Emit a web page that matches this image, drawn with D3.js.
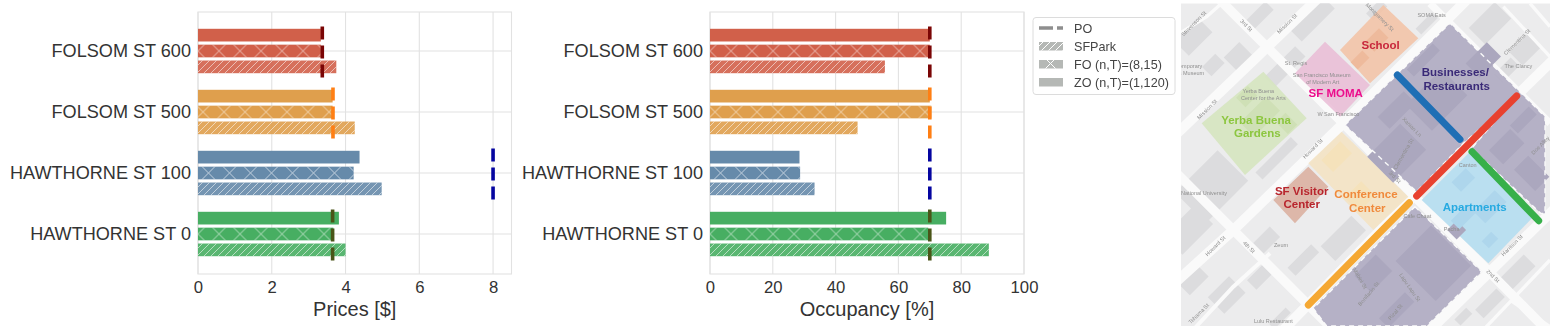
<!DOCTYPE html>
<html>
<head>
<meta charset="utf-8">
<script src="https://cdn.jsdelivr.net/npm/d3@7"></script>
<style>
  html, body { margin:0; padding:0; background:#fff; }
  svg { display:block; font-family:"Liberation Sans", Arial, sans-serif; }
  .soft { filter: blur(0.35px); }
  .map { filter: blur(0.55px); }
</style>
</head>
<body>
<div id="chart"></div>
<script>
// chart values
const blocks = ['FOLSOM ST 600','FOLSOM ST 500','HAWTHORNE ST 100','HAWTHORNE ST 0'];
const methods = ['ZO','FO','SF'];
const legendLabels = ['PO','SFPark','FO (n,T)=(8,15)','ZO (n,T)=(1,120)'];

const pricesZO = [3.33, 3.65, 4.38, 3.82];
const pricesFO = [3.33, 3.65, 4.22, 3.67];
const pricesSF = [3.75, 4.25, 4.98, 4.00];
const pricesPO = [3.37, 3.66, 8.00, 3.65];

const occZO = [70.0, 70.0, 28.5, 75.2];
const occFO = [70.0, 70.5, 28.7, 69.5];
const occSF = [55.7, 47.0, 33.3, 88.8];
const occPO = [70.0, 70.0, 70.0, 70.0];

const priceTicks = [0,2,4,6,8];
const occTicks = [0,20,40,60,80,100];

const barColors = ['#d1604a','#df9f4d','#668aaa','#47ae62'];
const poColors = ['#7a0505','#ff7f14','#0505a0','#4a5518'];
const hatchShift = [0, 5, 10.5, 0];

// map, all geometry in the units of a 1140x984 sheet
const mapRoads = [
  {w:30, p:[[-20,440],[470,-30]]},
  {w:30, p:[[-20,880],[190,690],[520,370],[920,-30]]},
  {w:30, p:[[330,1000],[720,600],[1200,130]]},
  {w:30, p:[[770,1000],[1160,620]]},
  {w:28, p:[[120,-30],[520,370],[720,575],[1140,1000]]},
  {w:28, p:[[-20,480],[190,690],[500,1000]]},
  {w:22, p:[[780,10],[1140,370]]},
  {w:10, p:[[-20,130],[110,50],[200,-30]]},
  {w:12, p:[[60,1000],[190,860],[300,760]]},
  {w:10, p:[[930,1000],[1140,780]]},
  {w:10, p:[[1000,20],[1140,170]]},
  {w:10, p:[[1020,900],[1140,980]]},
  {w:10, p:[[1080,10],[1140,80]]}
];
const mapBuildings = [
  [70,110,100,62],[205,170,66,58],[130,195,56,40],[345,200,130,44],[420,50,140,70],[270,45,80,36],
  [620,30,60,30],[770,70,70,24],[960,70,110,70],[1065,150,76,56],[1010,210,70,36],[125,560,180,130],
  [55,690,130,80],[320,475,150,30],[520,715,130,62],[290,720,70,44],[400,780,100,34],[170,885,90,70],
  [270,830,70,40],[70,840,80,50],[1040,820,110,50],[960,910,90,36],[880,950,50,26],[330,955,70,22]
];
const mapRegions = [
  {name:'yerba', fill:'#d6e5c0', o:0.92, edge:false, p:[[95,370],[280,215],[410,355],[225,525]]},
  {name:'school', fill:'#f2c3a6', o:0.88, edge:false, p:[[510,150],[640,15],[745,115],[600,250]]},
  {name:'moma', fill:'#e9bdd6', o:0.88, edge:false, p:[[375,220],[465,125],[600,255],[510,350]]},
  {name:'biz', fill:'#b2aec4', o:0.96, edge:true, p:[[525,375],[840,70],[1125,350],[1125,640],[1112,640],[905,445],[1040,290],[880,430],[740,575]]},
  {name:'biz2', fill:'#b2aec4', o:0.96, edge:true, p:[[735,620],[935,815],[770,978],[470,978],[430,925]]},
  {name:'apts', fill:'#b8deF0', o:0.97, edge:false, p:[[755,600],[900,455],[1090,650],[955,790]]},
  {name:'conf', fill:'#f3e4c6', o:0.95, edge:false, p:[[415,490],[515,395],[715,590],[610,690]]},
  {name:'visitor', fill:'#dcb5a6', o:0.97, edge:false, p:[[310,600],[415,500],[475,560],[375,670]]}
];
const mapPatches = [
  {c:'#aba7be', r:[[800,300,150,110],[940,180,90,60],[680,330,110,50],[680,460,140,110],[1010,440,90,60],[1085,520,60,90],[1060,360,80,34],[760,180,110,30]]},
  {c:'#aba7be', r:[[790,790,150,170],[610,820,90,70],[680,930,110,40],[860,690,40,40]]},
  {c:'#aed6ec', r:[[880,540,60,40],[960,620,90,50],[880,650,70,36],[960,720,40,30]]},
  {c:'#cfe0b6', r:[[270,350,110,60],[350,370,40,50],[230,290,50,40]]},
  {c:'#f5e2bb', r:[[570,590,70,60],[500,470,80,50]]},
  {c:'#eeba9c', r:[[620,120,60,40],[570,180,50,30]]}
];
const mapStreets = [
  {c:'#f5a833', p:[[415,915],[718,608]]},
  {c:'#e8412f', p:[[740,588],[1040,288]]},
  {c:'#1f6fb5', p:[[682,225],[870,418]]},
  {c:'#37b04a', p:[[906,455],[1106,662]]}
];
const mapLabels = [
  {t:'School', x:632, y:148, c:'#c8283c', s:11.5},
  {t:'Businesses/', x:856, y:228, c:'#3a2a78', s:11.5},
  {t:'Restaurants', x:860, y:270, c:'#3a2a78', s:11.5},
  {t:'SF MOMA', x:497, y:292, c:'#ec0d8c', s:11.5},
  {t:'Yerba Buena', x:258, y:372, c:'#8cc63f', s:11.5},
  {t:'Gardens', x:262, y:412, c:'#8cc63f', s:11.5},
  {t:'SF Visitor', x:395, y:584, c:'#b8252d', s:11.5},
  {t:'Center', x:395, y:624, c:'#b8252d', s:11.5},
  {t:'Conference', x:588, y:595, c:'#f08a3c', s:11.5},
  {t:'Center', x:592, y:637, c:'#f08a3c', s:11.5},
  {t:'Apartments', x:914, y:632, c:'#27aae1', s:11.5}
];
const mapSmallLabels = [
  {t:'Stevenson St', x:75, y:75, r:-45}, {t:'3rd St', x:225, y:80, r:45}, {t:'Mission St', x:355, y:75, r:-45},
  {t:'Montgomery St', x:625, y:55, r:45}, {t:'SOMA Eats', x:785, y:50, r:0}, {t:'Clementina St', x:1045, y:130, r:-45},
  {t:'The Clancy', x:1045, y:205, r:0}, {t:'St. Regis', x:378, y:196, r:0}, {t:'San Francisco Museum', x:455, y:232, r:0},
  {t:'of Modern Art', x:458, y:252, r:0}, {t:'Yerba Buena', x:265, y:280, r:0}, {t:'Center for the Arts', x:280, y:301, r:0},
  {t:'Mission St', x:115, y:332, r:-45}, {t:'W San Francisco', x:505, y:348, r:0}, {t:'Howard St', x:432, y:450, r:-45},
  {t:'Xanian Ln', x:722, y:385, r:45}, {t:'Clementina St', x:705, y:465, r:-60}, {t:'3rd St', x:670, y:535, r:45},
  {t:'Canton', x:893, y:502, r:0}, {t:'Doe Alley', x:1115, y:440, r:-45}, {t:'National University', x:102, y:585, r:0},
  {t:'Cafe Chaat', x:742, y:654, r:0}, {t:'Pacha', x:845, y:694, r:0}, {t:'Harrison St', x:1030, y:740, r:-45},
  {t:'Howard St', x:140, y:742, r:-45}, {t:'4th St', x:233, y:745, r:45}, {t:'Zeum', x:333, y:741, r:0},
  {t:'Mabini St', x:565, y:838, r:60}, {t:'Bonifacio St', x:600, y:885, r:-50}, {t:'Lapu Lapu St', x:715, y:865, r:55},
  {t:'Rizal St', x:680, y:940, r:-50}, {t:'2nd St', x:965, y:832, r:45}, {t:'Tehama St', x:90, y:945, r:-45},
  {t:'Lulu Restaurant', x:310, y:970, r:0}, {t:'emporary', x:62, y:205, r:0}, {t:'ts Museum', x:62, y:224, r:0}
];

const svg = d3.select('#chart').append('svg').attr('width', 1550).attr('height', 328);
const defs = svg.append('defs');
const margin = {t:12, b:274};

// hatches, one per block because each one starts from that block's bar
function makeHatches(prefix, x0, y){
  blocks.forEach((b,i)=>{
    const yMid = y(b) + rowScale('FO') + rowScale.bandwidth()/2;
    const x = defs.append('pattern').attr('id', `${prefix}-x-${i}`)
      .attr('patternUnits','userSpaceOnUse').attr('width',21).attr('height',21)
      .attr('patternTransform', `translate(${x0 - 10.5 + hatchShift[i]},${yMid - 10.5})`);
    x.append('path').attr('d','M0,0L21,21M21,0L0,21').attr('stroke','#fff').attr('stroke-opacity',0.6).attr('stroke-width',1);
    const s = defs.append('pattern').attr('id', `${prefix}-s-${i}`)
      .attr('patternUnits','userSpaceOnUse').attr('width',7).attr('height',7)
      .attr('patternTransform', `translate(${x0},${y(b)})`);
    s.append('path').attr('d','M-1,8L8,-1M-1,1L1,-1M6,8L8,6').attr('stroke','#fff').attr('stroke-opacity',0.55).attr('stroke-width',1);
  });
}

const rowScale = d3.scaleBand().domain(methods).range([-23,23]).paddingInner(0.2).paddingOuter(0.05);

function drawPanel(opts){
  const x = d3.scaleLinear().domain(opts.domain).range(opts.range);
  const y = d3.scalePoint().domain(blocks).range([51,234]);
  makeHatches(opts.id, opts.range[0], y);

  const g = svg.append('g').attr('class','panel soft');

  //grid
  g.append('g').selectAll('line').data(opts.ticks).join('line')
    .attr('x1',d=>x(d)).attr('x2',d=>x(d)).attr('y1',margin.t).attr('y2',margin.b)
    .attr('stroke','#e2e2e2').attr('stroke-width',1.1);
  g.append('g').selectAll('line').data(blocks).join('line')
    .attr('x1',opts.range[0]).attr('x2',opts.range[1]).attr('y1',d=>y(d)).attr('y2',d=>y(d))
    .attr('stroke','#e2e2e2').attr('stroke-width',1.1);
  g.append('rect').attr('x',opts.range[0]).attr('y',margin.t)
    .attr('width',opts.range[1]-opts.range[0]).attr('height',margin.b-margin.t)
    .attr('fill','none').attr('stroke','#e2e2e2').attr('stroke-width',1.1);

  //bars
  const series = [{m:'ZO',v:opts.zo},{m:'FO',v:opts.fo},{m:'SF',v:opts.sf}];
  series.forEach(s=>{
    g.append('g').selectAll('rect').data(blocks).join('rect')
      .attr('x',x(0)).attr('y',d=>y(d)+rowScale(s.m))
      .attr('width',(d,i)=>x(s.v[i])-x(0)).attr('height',rowScale.bandwidth())
      .attr('fill',(d,i)=>barColors[i]).attr('fill-opacity',s.m==='SF'?0.9:1);
    if(s.m!=='ZO'){
      const k = s.m==='FO'?'x':'s';
      g.append('g').selectAll('rect').data(blocks).join('rect')
        .attr('x',x(0)).attr('y',d=>y(d)+rowScale(s.m))
        .attr('width',(d,i)=>x(s.v[i])-x(0)).attr('height',rowScale.bandwidth())
        .attr('fill',(d,i)=>`url(#${opts.id}-${k}-${i})`);
    }
  });

  //PO dashes
  g.append('g').selectAll('line').data(blocks).join('line')
    .attr('x1',(d,i)=>x(opts.po[i])).attr('x2',(d,i)=>x(opts.po[i]))
    .attr('y1',d=>y(d)-24.5).attr('y2',d=>y(d)+27.5)
    .attr('stroke',(d,i)=>poColors[i]).attr('stroke-width',3.6).attr('stroke-dasharray','13 6');

  //axes
  const ax = svg.append('g').attr('transform',`translate(0,${margin.b})`)
    .call(d3.axisBottom(x).tickValues(opts.ticks).tickSize(0).tickPadding(7));
  ax.select('.domain').remove();
  ax.selectAll('text').style('font-size','16.7px').style('font-family','inherit').attr('fill','#333');

  const ay = svg.append('g').attr('transform',`translate(${opts.range[0]},0)`)
    .call(d3.axisLeft(y).tickSize(0).tickPadding(7));
  ay.select('.domain').remove();
  ay.selectAll('text').style('font-size','18.1px').style('font-family','inherit').attr('fill','#333');

  svg.append('text').attr('x',(opts.range[0]+opts.range[1])/2).attr('y',316)
    .attr('text-anchor','middle').style('font-size','20px').attr('fill','#333').text(opts.label);
}

drawPanel({id:'price', domain:[0,8.5], range:[198,511.5], ticks:priceTicks, zo:pricesZO, fo:pricesFO, sf:pricesSF, po:pricesPO, label:'Prices [$]'});
drawPanel({id:'occ', domain:[0,100], range:[710,1024], ticks:occTicks, zo:occZO, fo:occFO, sf:occSF, po:occPO, label:'Occupancy [%]'});

//legend
const legendY = d3.scalePoint().domain(legendLabels).range([28,82]);
const legend = svg.append('g').attr('class','soft');
defs.append('pattern').attr('id','leg-s').attr('patternUnits','userSpaceOnUse').attr('width',7).attr('height',7)
  .append('path').attr('d','M-1,8L8,-1M-1,1L1,-1M6,8L8,6').attr('stroke','#fff').attr('stroke-width',1);
defs.append('pattern').attr('id','leg-x').attr('patternUnits','userSpaceOnUse').attr('width',21).attr('height',21)
  .attr('patternTransform','translate(1040,53)')
  .append('path').attr('d','M0,0L21,21M21,0L0,21').attr('stroke','#fff').attr('stroke-width',1);
legend.append('rect').attr('x',1033).attr('y',17.5).attr('width',142).attr('height',77).attr('rx',3)
  .attr('fill','#fff').attr('stroke','#dcdcdc');
legend.append('line').attr('x1',1039).attr('x2',1063).attr('y1',legendY('PO')).attr('y2',legendY('PO'))
  .attr('stroke','#8e8e8e').attr('stroke-width',3.6).attr('stroke-dasharray','14 4');
legendLabels.slice(1).forEach((l,i)=>{
  const yy = legendY(l);
  legend.append('rect').attr('x',1039).attr('y',yy-4).attr('width',24).attr('height',8.5).attr('fill','#b5b8b5');
  if(i<2) legend.append('rect').attr('x',1039).attr('y',yy-4).attr('width',24).attr('height',8.5)
    .attr('fill',i===0?'url(#leg-s)':'url(#leg-x)');
});
legend.selectAll('text').data(legendLabels).join('text')
  .attr('x',1074).attr('y',d=>legendY(d)+4.5).style('font-size','12.6px').attr('fill','#444').text(d=>d);

//map
const mx = d3.scaleLinear().domain([0,1140]).range([1170,1550]);
const my = d3.scaleLinear().domain([0,984]).range([0,328]);
const mapLine = d3.line().x(d=>mx(d[0])).y(d=>my(d[1]));

function drawRects(g, data, fill){
  g.append('g').selectAll('rect').data(data).join('rect')
    .attr('x',d=>mx(d[0]-d[2]/2)).attr('y',d=>my(d[1]-d[3]/2))
    .attr('width',d=>mx(d[2])-mx(0)).attr('height',d=>my(d[3])-my(0))
    .attr('transform',d=>`rotate(-45,${mx(d[0])},${my(d[1])})`).attr('fill',fill);
}

defs.append('clipPath').attr('id','map-clip').append('rect')
  .attr('x',mx(33)).attr('y',my(10)).attr('width',mx(1140)-mx(33)).attr('height',my(978)-my(10));

const map = svg.append('g').attr('class','map').attr('clip-path','url(#map-clip)');
map.append('rect').attr('x',mx(33)).attr('y',my(10)).attr('width',mx(1140)-mx(33)).attr('height',my(978)-my(10)).attr('fill','#ececed');
drawRects(map, mapBuildings, '#dcdcde');
map.append('g').selectAll('path').data(mapRoads).join('path')
  .attr('d',d=>mapLine(d.p)).attr('fill','none').attr('stroke','#fafafa')
  .attr('stroke-width',d=>mx(d.w)-mx(0));
map.append('g').selectAll('path').data(mapRegions).join('path')
  .attr('d',d=>mapLine(d.p)+'Z').attr('fill',d=>d.fill).attr('fill-opacity',d=>d.o);
mapPatches.forEach(p=>drawRects(map, p.r, p.c));
map.append('g').selectAll('path').data(mapRegions.filter(d=>d.edge)).join('path')
  .attr('d',d=>mapLine(d.p)+'Z').attr('fill','none')
  .attr('stroke','#fafafa').attr('stroke-width',1.4).attr('stroke-dasharray','5 4');
map.append('g').selectAll('text').data(mapSmallLabels).join('text')
  .attr('transform',d=>`translate(${mx(d.x)},${my(d.y)}) rotate(${d.r})`)
  .attr('text-anchor','middle').style('font-size','5.5px').attr('fill','#8f8f8f').text(d=>d.t);
map.append('g').selectAll('path').data(mapStreets).join('path')
  .attr('d',d=>mapLine(d.p)).attr('fill','none').attr('stroke',d=>d.c)
  .attr('stroke-width',7).attr('stroke-linecap','round');
map.append('g').selectAll('text').data(mapLabels).join('text')
  .attr('x',d=>mx(d.x)).attr('y',d=>my(d.y)).attr('text-anchor','middle')
  .style('font-size',d=>d.s+'px').style('font-weight','bold').attr('fill',d=>d.c).text(d=>d.t);
</script>
</body>
</html>
